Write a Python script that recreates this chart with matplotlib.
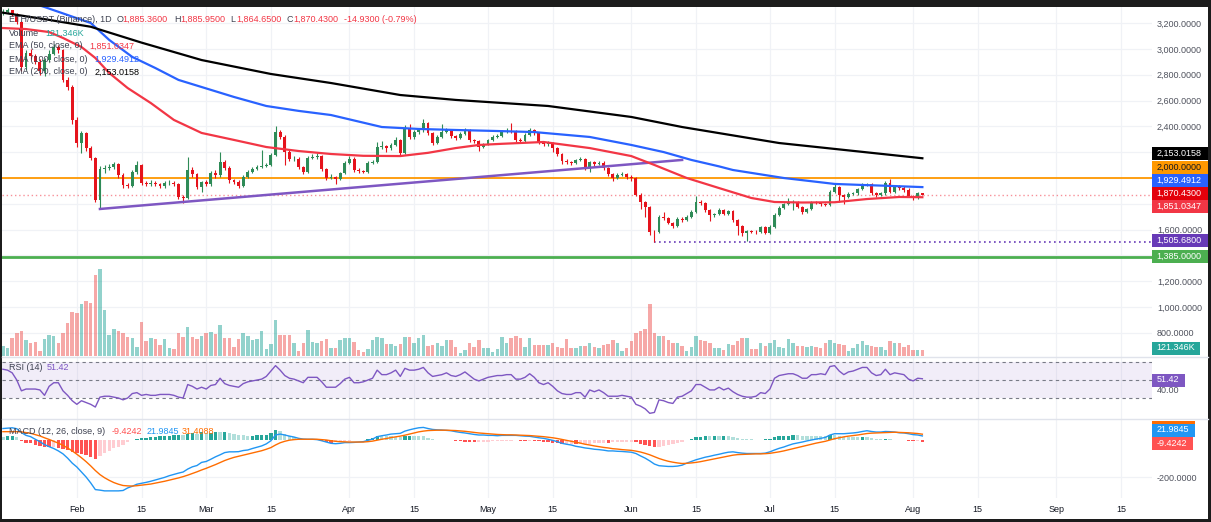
import numpy as np
import pandas as pd
import matplotlib
matplotlib.use("Agg")
import matplotlib.pyplot as plt
import matplotlib.dates as mdates
from matplotlib.patches import Rectangle
from matplotlib.lines import Line2D

plt.rcParams['font.family'] = ['Liberation Sans', 'DejaVu Sans']

# ---- data (daily, starting 16 Jan) ----
start_day = '2023-01-16'
first_open = 3275

closes = [3290, 3300, 3270, 3210, 2860, 2969, 2945, 2900, 2830, 2915,
          2960, 3015, 2990, 2760, 2705, 2450, 2270, 2349, 2232, 2155,
          1830, 2070, 2080, 2085, 2110, 2023, 1946, 1940, 2046, 2100,
          1961, 1955, 1965, 1950, 1935, 1960, 1965, 1955, 1853, 1845,
          2062, 2030, 1930, 1969, 1950, 2040, 2020, 2124, 2077, 1985,
          1970, 1938, 2008, 2046, 2070, 2085, 2093, 2100, 2178, 2356,
          2317, 2201, 2147, 2150, 2085, 2046, 2155, 2163, 2170, 2070,
          2000, 2008, 1992, 2039, 2116, 2147, 2062, 2055, 2050, 2116,
          2124, 2240, 2245, 2230, 2256, 2295, 2194, 2387, 2317, 2356,
          2372, 2426, 2349, 2271, 2318, 2356, 2372, 2325, 2310, 2340,
          2372, 2295, 2287, 2240, 2263, 2295, 2318, 2325, 2356, 2364,
          2360, 2295, 2290, 2333, 2372, 2349, 2280, 2263, 2270, 2232,
          2186, 2132, 2124, 2116, 2140, 2147, 2077, 2124, 2108, 2120,
          2077, 2031, 2000, 2023, 2031, 2008, 2000, 1868, 1814, 1775,
          1582, 1581, 1698, 1690, 1651, 1628, 1682, 1675, 1700, 1737,
          1814, 1806, 1752, 1713, 1720, 1752, 1721, 1745, 1675, 1628,
          1574, 1589, 1585, 1580, 1620, 1575, 1620, 1713, 1768, 1798,
          1806, 1814, 1775, 1737, 1760, 1814, 1806, 1800, 1790, 1892,
          1930, 1868, 1853, 1876, 1880, 1915, 1946, 1954, 1884, 1868,
          1880, 1961, 1892, 1930, 1920, 1910, 1860, 1850, 1885.36, 1870.43]

highs = [3310, 3320, 3305, 3280, 3220, 2990, 3000, 2960, 2920, 2930,
         2990, 3040, 3030, 3000, 2780, 2720, 2470, 2365, 2360, 2250,
         2165, 2090, 2100, 2110, 2125, 2120, 2035, 1965, 2060, 2130,
         2110, 1980, 1985, 1980, 1960, 1975, 1985, 1975, 1965, 1870,
         2163, 2085, 2040, 1980, 1985, 2055, 2060, 2200, 2140, 2090,
         1995, 1985, 2020, 2060, 2085, 2100, 2220, 2115, 2190, 2400,
         2370, 2330, 2215, 2170, 2160, 2095, 2170, 2185, 2190, 2180,
         2080, 2030, 2015, 2050, 2130, 2170, 2160, 2075, 2065, 2130,
         2140, 2280, 2290, 2255, 2270, 2315, 2305, 2410, 2420, 2370,
         2390, 2460, 2435, 2360, 2330, 2420, 2385, 2380, 2335, 2355,
         2390, 2380, 2305, 2295, 2275, 2305, 2330, 2340, 2370, 2385,
         2426, 2370, 2310, 2345, 2385, 2380, 2355, 2290, 2285, 2280,
         2240, 2195, 2145, 2135, 2150, 2165, 2155, 2135, 2135, 2135,
         2130, 2085, 2040, 2035, 2045, 2040, 2020, 2010, 1880, 1825,
         1785, 1600, 1715, 1735, 1700, 1660, 1695, 1695, 1715, 1750,
         1860, 1830, 1815, 1760, 1730, 1765, 1760, 1755, 1750, 1685,
         1635, 1600, 1600, 1595, 1630, 1630, 1635, 1725, 1780, 1810,
         1845, 1830, 1820, 1785, 1770, 1825, 1825, 1815, 1810, 1905,
         1955, 1940, 1875, 1890, 1895, 1925, 1960, 1965, 1960, 1890,
         1895, 1980, 1990, 1945, 1945, 1935, 1920, 1870, 1895, 1885.95]

lows = [3260, 3280, 3255, 3195, 2830, 2840, 2920, 2880, 2800, 2790,
        2900, 2950, 2970, 2740, 2680, 2420, 2240, 2194, 2210, 2140,
        1814, 1760, 2040, 2060, 2070, 2000, 1925, 1920, 1930, 2030,
        1945, 1940, 1940, 1935, 1920, 1925, 1945, 1935, 1840, 1806,
        1835, 2010, 1915, 1890, 1935, 1940, 2000, 2010, 2060, 1965,
        1950, 1920, 1930, 2000, 2035, 2060, 2075, 2085, 2095, 2170,
        2300, 2100, 2130, 2135, 2070, 2030, 2040, 2145, 2150, 2055,
        1985, 1990, 1950, 1985, 2030, 2105, 2050, 2040, 2035, 2040,
        2105, 2115, 2225, 2200, 2215, 2245, 2180, 2185, 2300, 2300,
        2340, 2360, 2335, 2255, 2260, 2310, 2345, 2310, 2295, 2300,
        2330, 2280, 2270, 2210, 2230, 2255, 2285, 2310, 2315, 2345,
        2345, 2280, 2275, 2280, 2325, 2335, 2265, 2245, 2250, 2200,
        2170, 2110, 2110, 2100, 2105, 2130, 2065, 2050, 2095, 2100,
        2065, 2015, 1975, 1990, 2015, 1995, 1975, 1860, 1760, 1700,
        1560, 1505.68, 1570, 1675, 1640, 1615, 1620, 1660, 1665, 1690,
        1730, 1790, 1740, 1670, 1700, 1710, 1710, 1715, 1660, 1560,
        1550, 1510, 1570, 1565, 1570, 1565, 1565, 1610, 1705, 1760,
        1790, 1750, 1765, 1720, 1730, 1755, 1795, 1785, 1780, 1785,
        1880, 1815, 1800, 1845, 1865, 1870, 1905, 1935, 1870, 1855,
        1860, 1870, 1880, 1880, 1905, 1890, 1850, 1830, 1840, 1864.65]

volume_k = [202, 155, 357, 458, 505, 323, 256, 290, 108, 344,
            425, 404, 270, 472, 674, 883, 876, 1051, 1119, 1065,
            1638, 1759, 930, 425, 539, 505, 472, 377, 371, 189,
            687, 310, 357, 344, 222, 344, 169, 135, 472, 391,
            586, 377, 344, 404, 458, 492, 438, 627, 371, 357,
            175, 344, 472, 404, 323, 344, 505, 148, 243, 728,
            425, 425, 425, 270, 101, 256, 526, 290, 270, 310,
            344, 155, 169, 323, 357, 357, 290, 121, 88, 135,
            323, 391, 357, 243, 243, 202, 243, 391, 391, 256,
            357, 425, 202, 216, 270, 209, 323, 323, 175, 67,
            121, 270, 175, 323, 155, 169, 88, 142, 377, 256,
            357, 404, 357, 175, 357, 222, 222, 222, 222, 256,
            175, 155, 344, 155, 155, 202, 202, 270, 175, 155,
            222, 243, 323, 256, 108, 155, 310, 472, 512, 546,
            1045, 472, 404, 404, 323, 270, 270, 202, 108, 175,
            404, 323, 310, 270, 155, 155, 121, 243, 222, 310,
            357, 357, 135, 135, 270, 202, 270, 323, 175, 155,
            344, 270, 202, 202, 175, 202, 175, 155, 270, 323,
            270, 243, 222, 108, 155, 243, 303, 222, 202, 189,
            175, 121, 310, 270, 256, 175, 222, 121, 121, 121.346]

rsi = [62, 61, 58, 50, 38, 40, 40, 40, 39, 33,
       43, 47, 47, 38, 33, 27, 23, 27, 25, 23,
       20, 31, 32, 32, 31, 30, 28, 30, 35, 36,
       33, 34, 33, 33, 34, 34, 34, 33, 31, 30,
       45, 43, 40, 42, 40, 44, 45, 52, 46, 44,
       43, 42, 46, 48, 49, 50, 51, 54, 60, 66,
       61, 55, 52, 51, 49, 47, 53, 53, 53, 48,
       42, 42, 42, 46, 51, 53, 47, 47, 48, 50,
       52, 61, 56, 56, 58, 61, 54, 63, 61, 61,
       62, 64, 58, 54, 55, 56, 58, 55, 54, 56,
       59, 55, 51, 49, 51, 53, 54, 55, 55, 56,
       56, 51, 51, 53, 57, 53, 47, 45, 47, 43,
       38, 35, 34, 34, 36, 36, 31, 39, 37, 39,
       36, 32, 32, 32, 33, 32, 31, 23, 21, 18,
       13, 14, 28, 27, 25, 24, 31, 32, 35, 38,
       45, 45, 42, 39, 39, 42, 39, 41, 37, 34,
       32, 31, 31, 32, 36, 35, 40, 52, 55, 56,
       57, 57, 55, 52, 52, 56, 56, 57, 56, 65,
       66, 60, 56, 59, 60, 62, 64, 64, 58, 55,
       56, 62, 56, 58, 57, 56, 51, 49, 52, 51.42]

macd = [62, 64, 66, 61, 40, 25, 18, 4, -9, -25,
        -36, -46, -59, -75, -98, -125, -146, -173, -200, -232,
        -268, -271, -275, -275, -275, -275, -273, -259, -250, -239,
        -234, -229, -223, -216, -209, -202, -193, -186, -179, -173,
        -157, -145, -138, -121, -116, -104, -91, -80, -68, -64,
        -64, -63, -57, -54, -46, -39, -32, -21, -4, 27,
        32, 27, 21, 16, 9, 5, 4, 4, 2, -4,
        -11, -18, -20, -18, -14, -14, -13, -11, -9, -2,
        5, 18, 23, 27, 32, 34, 36, 48, 55, 61,
        66, 68, 62, 57, 55, 54, 52, 50, 45, 41,
        38, 34, 30, 27, 27, 25, 25, 23, 25, 25,
        25, 25, 23, 21, 20, 16, 12, 9, 4, -2,
        -9, -18, -23, -27, -34, -38, -43, -46, -50, -52,
        -55, -59, -59, -61, -62, -64, -66, -73, -86, -98,
        -113, -130, -139, -141, -143, -143, -141, -136, -125, -116,
        -107, -100, -93, -88, -82, -77, -71, -66, -64, -68,
        -71, -73, -73, -73, -73, -71, -64, -54, -45, -38,
        -29, -21, -16, -11, -5, 0, 5, 9, 14, 27,
        34, 34, 34, 36, 38, 41, 46, 50, 46, 43,
        43, 46, 45, 43, 39, 38, 34, 29, 27, 21.9845]

signal = [45, 45, 45, 45, 44, 40, 36, 29, 22, 12,
          3, -7, -17, -29, -43, -59, -77, -96, -117, -140,
          -165, -187, -204, -218, -230, -239, -246, -248, -249, -247,
          -244, -241, -238, -233, -228, -223, -217, -211, -205, -198,
          -190, -181, -172, -162, -153, -143, -133, -122, -111, -102,
          -94, -88, -82, -76, -70, -64, -58, -50, -41, -27,
          -15, -7, -1, 2, 4, 4, 4, 4, 4, 2,
          0, -4, -7, -9, -10, -11, -11, -11, -11, -9,
          -6, -1, 4, 8, 13, 17, 21, 26, 32, 38,
          44, 48, 51, 52, 53, 53, 53, 52, 51, 49,
          47, 44, 41, 38, 36, 34, 32, 30, 29, 28,
          28, 27, 26, 25, 24, 22, 20, 18, 15, 12,
          8, 3, -2, -7, -12, -17, -23, -27, -32, -36,
          -40, -43, -47, -49, -52, -54, -56, -60, -65, -72,
          -80, -90, -100, -108, -115, -120, -124, -127, -126, -124,
          -121, -117, -112, -107, -102, -97, -92, -87, -82, -79,
          -78, -77, -76, -75, -75, -74, -72, -68, -64, -59,
          -53, -47, -41, -35, -29, -23, -17, -12, -7, 0,
          7, 12, 17, 21, 24, 27, 31, 35, 37, 38,
          39, 40, 41, 42, 41, 40, 39, 37, 35, 31.4088]

# moving averages read at a number of days (day index from start)
ema50_days = [0, 5, 10, 13, 17, 20, 23, 27, 32, 37, 43, 50, 57, 64, 71, 78, 86, 92,
              98, 103, 108, 117, 127, 136, 141, 148, 155, 162, 167, 173, 180, 187,
              194, 199]
ema50 = [3162, 3154, 3131, 3085, 3015, 2930, 2814, 2697, 2581, 2450, 2349, 2295,
         2240, 2209, 2186, 2172, 2170, 2195, 2232, 2256, 2265, 2279, 2232, 2170,
         2101, 2000, 1922, 1845, 1814, 1810, 1812, 1837, 1853, 1851.0347]
ema100_days = [0, 9, 14, 19, 23, 28, 33, 38, 43, 50, 57, 64, 71, 82, 90, 98, 106,
               115, 127, 136, 143, 149, 155, 158, 169, 175, 180, 186, 191, 199]
ema100 = [3430, 3325, 3263, 3201, 3070, 2938, 2852, 2760, 2705, 2628, 2558, 2520,
          2488, 2395, 2380, 2372, 2365, 2356, 2318, 2256, 2201, 2140, 2090, 2062,
          2000, 1975, 1954, 1946, 1940, 1929.4912]
ema200_days = [0, 10, 19, 30, 43, 58, 71, 86, 98, 118, 136, 147, 168, 199]
ema200 = [3281, 3225, 3172, 3049, 2914, 2806, 2736, 2643, 2605, 2558, 2473, 2395,
          2271, 2153.0158]

trend_days = [21, 147]
trend_prices = [1760, 2140]
support_2000 = 2000
support_1385 = 1385
low_1505 = 1505.68
low_1505_day = 141
last_close = 1870.43

price_ticks = [3200, 3000, 2800, 2600, 2400, 1600, 1200, 1000, 800]
tick_dates = ['2023-02-01', '2023-02-15', '2023-03-01', '2023-03-15', '2023-04-01',
              '2023-04-15', '2023-05-01', '2023-05-15', '2023-06-01', '2023-06-15',
              '2023-07-01', '2023-07-15', '2023-08-01', '2023-08-15', '2023-09-01',
              '2023-09-15']
tick_labels = ['Feb', '15', 'Mar', '15', 'Apr', '15', 'May', '15', 'Jun', '15',
               'Jul', '15', 'Aug', '15', 'Sep', '15']

# ---- colours ----
UP, DOWN = '#2e8b57', '#e5131c'
GRID = '#f0f2f6'
TXT = '#3d4150'

W, H = 1211, 522


def box(l, t, r, b):
    return [l / W, 1 - b / H, (r - l) / W, (b - t) / H]


def fx(px):
    return px / W


def fy(py):
    return 1 - py / H


closes = np.array(closes, float)
highs = np.array(highs, float)
lows = np.array(lows, float)
opens = np.r_[first_open, closes[:-1]]
dates = pd.date_range(start_day, periods=len(closes), freq='D')
x = mdates.date2num(dates)
xlim = (x[0] - 0.2, x[0] + 248.7)
up = closes >= opens
ccol = np.where(up, UP, DOWN)

fig = plt.figure(figsize=(W / 100, H / 100), dpi=100)
fig.patch.set_facecolor('#1c1c1c')
fig.add_artist(Rectangle((fx(2), fy(519)), 1206 / W, 512 / H, transform=fig.transFigure,
                         facecolor='white', edgecolor='none', zorder=-10))

ax = fig.add_axes(box(2, 7, 1152, 357))
axv = fig.add_axes(box(2, 268, 1152, 356))
axr = fig.add_axes(box(2, 357, 1152, 419))
axm = fig.add_axes(box(2, 419, 1152, 498))

tx = mdates.date2num(pd.to_datetime(tick_dates))
for a in (ax, axv, axr, axm):
    a.set_facecolor('none')
    a.set_xlim(*xlim)
    for s in a.spines.values():
        s.set_visible(False)
    a.tick_params(axis='x', bottom=False, labelbottom=False)
for a in (ax, axr, axm):
    for t in tx:
        a.axvline(t, color=GRID, lw=0.9, zorder=0)

# ---- price pane ----
ax.set_ylim(613, 3325)
for lvl in range(800, 3400, 200):
    ax.axhline(lvl, color=GRID, lw=0.9, zorder=0)
ax.axhline(support_2000, color='#ff9800', lw=1.3, zorder=2)
ax.axhline(support_1385, color='#4caf50', lw=2, zorder=2)
ax.hlines(low_1505, x[low_1505_day], xlim[1], color='#673ab7', lw=1.2,
          linestyles=(0, (1, 2)), zorder=2)
ax.axhline(last_close, color='#f23645', lw=1, ls=(0, (1, 2)), alpha=0.55, zorder=2)
ax.plot(x[trend_days], trend_prices, color='#7e57c2', lw=1.8, zorder=4)

ax.vlines(x, lows, highs, colors=ccol, lw=0.8, zorder=3)
ax.bar(x, np.maximum(np.abs(closes - opens), 4), bottom=np.minimum(opens, closes),
       width=0.62, color=ccol, linewidth=0, zorder=3.1)

ax.plot(x[ema50_days], ema50, color='#f23645', lw=1.6, zorder=5)
ax.plot(x[ema100_days], ema100, color='#2962ff', lw=1.6, zorder=5)
ax.plot(x[ema200_days], ema200, color='#000000', lw=1.6, zorder=5)

ax.yaxis.tick_right()
ax.set_yticks(price_ticks)
ax.set_yticklabels([f'{v:,.4f}' for v in price_ticks])
ax.tick_params(axis='y', length=0, pad=3.6, labelsize=6.5, labelcolor='#50535e')

# ---- volume overlay ----
vcol = np.where(up, '#26a69a', '#ef5350')
axv.bar(x, volume_k, width=0.75, color=vcol, alpha=0.5, linewidth=0)
axv.set_ylim(0, 1780)
axv.set_yticks([])

# ---- RSI pane ----
axr.set_ylim(6.7, 75.6)
axr.axhspan(30, 70, color='#7e57c2', alpha=0.1, lw=0)
for lv in (70, 50, 30):
    axr.axhline(lv, color='#787b86', lw=0.8, ls=(0, (3, 3)))
axr.plot(x, rsi, color='#7e57c2', lw=1)
axr.yaxis.tick_right()
axr.set_yticks([40])
axr.set_yticklabels(['40.00'])
axr.tick_params(axis='y', length=0, pad=3.6, labelsize=6.5, labelcolor='#50535e')

# ---- MACD pane ----
macd = np.array(macd, float)
signal = np.array(signal, float)
hist = macd - signal
prev = np.r_[hist[0], hist[:-1]]
hcol = np.where(hist >= 0, np.where(hist > prev, '#26a69a', '#b2dfdb'),
                np.where(hist < prev, '#ff5252', '#ffcdd2'))
axm.set_ylim(-313.5, 113.5)
axm.axhline(-200, color=GRID, lw=0.9, zorder=0)
axm.bar(x, hist, width=0.72, color=hcol, linewidth=0)
axm.plot(x, macd, color='#2196f3', lw=1)
axm.plot(x, signal, color='#ff6d00', lw=1)
axm.yaxis.tick_right()
axm.set_yticks([-200])
axm.set_yticklabels(['-200.0000'])
axm.tick_params(axis='y', length=0, pad=3.6, labelsize=6.5, labelcolor='#50535e')
axm.set_xticks(tx)
axm.set_xticklabels(tick_labels)
axm.tick_params(axis='x', length=0, pad=5, labelsize=6.5, labelcolor='#131722',
                labelbottom=True)

# pane separators
for yy in (357, 419):
    fig.add_artist(Line2D([fx(2), fx(1208)], [fy(yy), fy(yy)], transform=fig.transFigure,
                          color='#e0e3eb', lw=1))


# ---- right scale tags ----
tag_z = [5]


def tag(txt, ypix, fc, tc='white', right=1208):
    z = tag_z[0]
    tag_z[0] += 2
    fig.add_artist(Rectangle((fx(1152), fy(ypix + 6.5)), (right - 1152) / W, 13 / H,
                             transform=fig.transFigure, facecolor=fc, edgecolor='none',
                             zorder=z))
    if txt:
        fig.text(fx(1156.5), fy(ypix), txt, color=tc, fontsize=6.5, va='center',
                 ha='left', zorder=z + 1)


tag('2,153.0158', 153, '#000000')
tag('2,000.0000', 167, '#ff9800', tc='#131722')
tag('1,929.4912', 180, '#2962ff')
tag('1,870.4300', 193, '#e3000b')
tag('1,851.0347', 206, '#f23645')
tag('1,505.6800', 240, '#673ab7')
tag('1,385.0000', 256, '#4caf50')
tag('121.346K', 348, '#26a69a', right=1200)
tag('51.42', 380, '#7e57c2', right=1185)
tag('', 427, '#ff6d00', right=1195)   # signal tag, hidden behind the MACD tag
tag('21.9845', 430, '#2196f3', right=1195)
tag('-9.4242', 443, '#ff5252', right=1193)


# ---- legends ----
def lab(px, py, s, c=TXT):
    fig.text(fx(px), fy(py), s, color=c, fontsize=6.5, va='center', ha='left', zorder=6)


RED = '#f23645'
lab(9, 19, 'ETH/USDT (Binance), 1D')
lab(116.5, 19, 'O')
lab(122.5, 19, '1,885.3600', RED)
lab(174, 19, 'H')
lab(180.5, 19, '1,885.9500', RED)
lab(230.5, 19, 'L')
lab(236, 19, '1,864.6500', RED)
lab(286.5, 19, 'C')
lab(293, 19, '1,870.4300', RED)
lab(344, 19, '-14.9300 (-0.79%)', RED)
lab(9, 33, 'Volume')
lab(45, 33, '121.346K', '#26a69a')
lab(9, 46, 'EMA (50, close, 0)')
lab(89.5, 46, '1,851.0347', RED)
lab(9, 59, 'EMA (100, close, 0)')
lab(94.5, 59, '1,929.4912', '#2962ff')
lab(9, 72, 'EMA (200, close, 0)')
lab(94.5, 72, '2,153.0158', '#000000')
lab(9, 368, 'RSI (14)')
lab(47, 368, '51.42', '#7e57c2')
lab(9, 431, 'MACD (12, 26, close, 9)')
lab(112, 431, '-9.4242', '#ff5252')
lab(147, 431, '21.9845', '#2196f3')
lab(182, 431, '31.4088', '#ff6d00')

fig.savefig('out.png', dpi=100, facecolor=fig.get_facecolor())
